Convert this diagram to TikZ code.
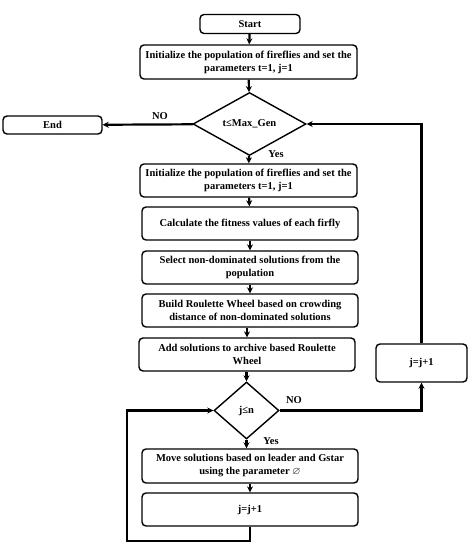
\documentclass[tikz,border=0pt]{standalone}
\usepackage{fontspec}
\setmainfont{Liberation Serif}
\usepackage{amssymb}
\usepackage{tikz}
\usetikzlibrary{shapes.geometric,arrows.meta}
\tikzstyle{box}=[draw=black,line width=1.4pt,rounded corners=4pt,align=center,minimum width=216pt,minimum height=33pt,inner sep=1pt,font=\bfseries\fontsize{10.5}{13}\selectfont]
\tikzstyle{test}=[draw=black,line width=1.4pt,diamond,inner sep=0pt,font=\bfseries\fontsize{10.5}{13}\selectfont]
\tikzstyle{flow}=[line width=2.2pt,-{Stealth[length=6pt,width=6pt]}]
\tikzstyle{lbl}=[font=\bfseries\fontsize{10.5}{12}\selectfont]

\begin{document}
\begin{tikzpicture}[x=1pt,y=-1pt]
      \useasboundingbox (0,0) rectangle (474,550);

      \node[box,minimum width=100pt,minimum height=19pt] (st) at (250,24) {Start};
      \node[box,minimum width=217pt,minimum height=34pt] (i1) at (248.5,62) {Initialize the population of fireflies and set the\\ parameters t=1, j=1};
      \node[test,minimum width=113pt,minimum height=63pt] (d1) at (249.5,124) {t≤Max\_Gen};
      \node[box,minimum width=99pt,minimum height=18pt] (en) at (52.5,125) {End};
      \node[box,minimum width=217pt] (i2) at (248.5,180.5) {Initialize the population of fireflies and set the\\ parameters t=1, j=1};
      \node[box] (ca) at (250,223.5) {Calculate the fitness values of each firfly};
      \node[box] (se) at (250,267.5) {Select non-dominated solutions from the\\ population};
      \node[box] (bu) at (250,310.5) {Build Roulette Wheel based on crowding\\ distance of non-dominated solutions};
      \node[box] (ad) at (247,354.5) {Add solutions to archive based Roulette\\ Wheel};
      \node[test,minimum width=65pt,minimum height=57pt] (d2) at (246.5,410.5) {j≤n};
      \node[box,minimum height=34pt] (mo) at (250,466) {Move solutions based on leader and Gstar\\ using the parameter $\varnothing$};
      \node[box] (jj) at (250,509.5) {j=j+1};
      \node[box,minimum width=91pt,minimum height=38pt] (tt) at (421.5,363) {j=j+1};
      \coordinate (lp) at (127,541);

      \draw[flow] (st) -- (i1);
      \draw[flow] (i1) -- (d1);
      \draw[flow] (d1) -- (en);
      \draw[flow] (d1) -- (i2);
      \draw[flow] (i2) -- (ca);
      \draw[flow] (ca) -- (se);
      \draw[flow] (se) -- (bu);
      \draw[flow] (bu.south -| ad) -- (ad);
      \draw[flow] (ad.south -| d2) -- (d2);
      \draw[flow] (d2.south) -- (mo.north -| d2.south);
      \draw[flow] (mo) -- (jj);
      \draw[flow] (jj.south) |- (lp) |- (d2.west);
      \draw[flow] (d2.east) -| (tt.south);
      \draw[flow] (tt.north) |- (d1.east);

      \node[lbl] (n1) at (160,116) {NO};
      \node[lbl] (y1) at (276,154) {Yes};
      \node[lbl] (n2) at (294,400) {NO};
      \node[lbl] (y2) at (271,441) {Yes};

    \end{tikzpicture}
\end{document}
